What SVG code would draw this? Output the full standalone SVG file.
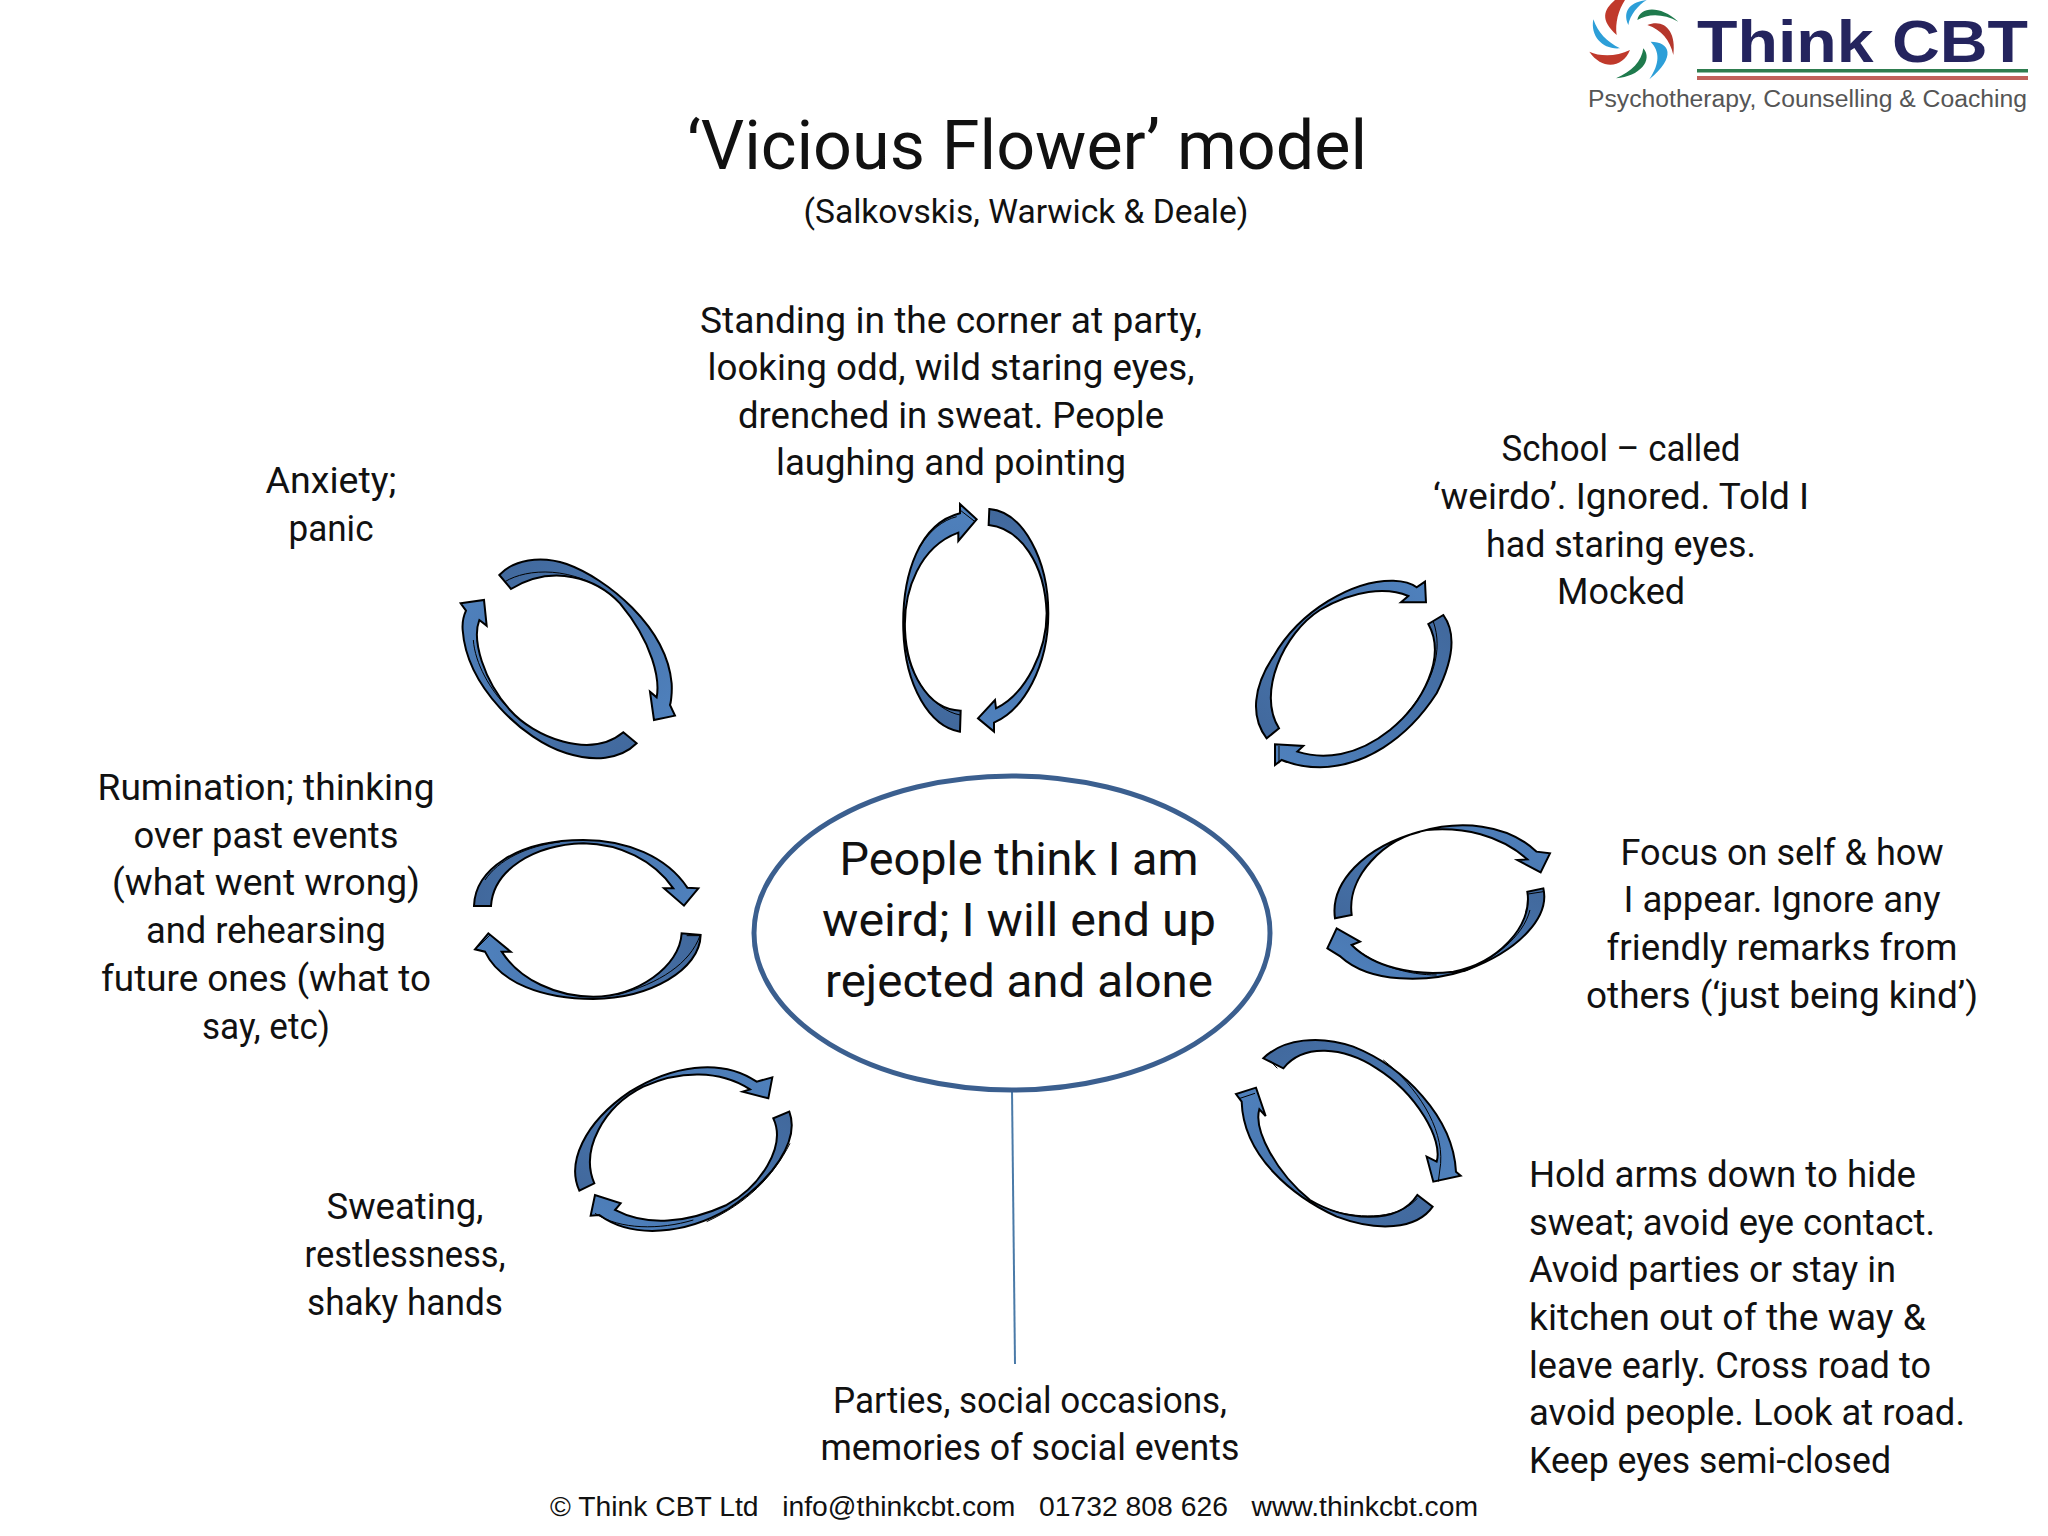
<svg xmlns="http://www.w3.org/2000/svg" width="2048" height="1536" viewBox="0 0 2048 1536">
<style>
text{font-family:"Roboto","Noto Sans",sans-serif;fill:#111}
.b{font-size:36.5px;text-anchor:middle}
.l{font-size:36.5px}
.a{stroke:#000;stroke-width:6;stroke-linejoin:miter}
.s{fill:none;stroke:#000;stroke-width:3}
.f{font-family:"Liberation Sans",Arial,sans-serif;white-space:pre}
</style>
<defs>
<linearGradient id="tb" x1="0" y1="0" x2="0" y2="1"><stop offset="0" stop-color="#41689c"/><stop offset="1" stop-color="#4f81bd"/></linearGradient>
<linearGradient id="bt" x1="0" y1="1" x2="0" y2="0"><stop offset="0" stop-color="#41689c"/><stop offset="1" stop-color="#4f81bd"/></linearGradient>
<linearGradient id="lr" x1="0" y1="0" x2="1" y2="0"><stop offset="0" stop-color="#41689c"/><stop offset="1" stop-color="#4f81bd"/></linearGradient>
<linearGradient id="rl" x1="1" y1="0" x2="0" y2="0"><stop offset="0" stop-color="#41689c"/><stop offset="1" stop-color="#4f81bd"/></linearGradient>
<linearGradient id="tlbr" x1="0" y1="0" x2="1" y2="1"><stop offset="0" stop-color="#41689c"/><stop offset="1" stop-color="#4f81bd"/></linearGradient>
<linearGradient id="brtl" x1="1" y1="1" x2="0" y2="0"><stop offset="0" stop-color="#41689c"/><stop offset="1" stop-color="#4f81bd"/></linearGradient>
<linearGradient id="bltr" x1="0" y1="1" x2="1" y2="0"><stop offset="0" stop-color="#41689c"/><stop offset="1" stop-color="#4f81bd"/></linearGradient>
<linearGradient id="trbl" x1="1" y1="0" x2="0" y2="1"><stop offset="0" stop-color="#41689c"/><stop offset="1" stop-color="#4f81bd"/></linearGradient>
</defs>
<rect width="2048" height="1536" fill="#fff"/>

<g id="logo">
<g transform="translate(1560,0) scale(0.3333)">
<path fill="#c0392b" d="M165,0C130,30 120,60 170,105C165,70 175,30 195,0Z"/>
<path fill="#2d9fd8" d="M260,0C215,5 185,30 205,75C210,45 235,15 260,0Z"/>
<path fill="#1f7a4d" d="M232,60C240,20 300,15 355,65C310,40 265,40 232,60Z"/>
<path fill="#b5372c" d="M262,75C310,55 350,90 340,165C330,120 305,90 262,75Z"/>
<path fill="#2d9fd8" d="M272,125C330,125 350,170 268,238C300,190 300,155 272,125Z"/>
<path fill="#1f7a4d" d="M250,145C280,180 240,230 168,235C215,215 245,185 250,145Z"/>
<path fill="#c0392b" d="M88,155C120,170 170,170 210,150C190,200 130,215 88,155Z"/>
<path fill="#2d9fd8" d="M100,58C90,110 130,150 180,145C140,125 115,100 100,58Z"/>
</g>
<text class="f" x="1697" y="62" font-size="60" font-weight="bold" textLength="331" lengthAdjust="spacingAndGlyphs" style="fill:#24245e">Think CBT</text>
<rect x="1697" y="69" width="331" height="3.5" fill="#2e7d4f"/>
<rect x="1697" y="76" width="331" height="4" fill="#c0605a"/>
<text class="f" x="1588" y="107" font-size="23" textLength="439" lengthAdjust="spacingAndGlyphs" style="fill:#555">Psychotherapy, Counselling &amp; Coaching</text>
</g>

<g id="title">
<text x="1027" y="169" font-size="68" text-anchor="middle" textLength="680" lengthAdjust="spacingAndGlyphs">‘Vicious Flower’ model</text>
<text x="1026" y="223" font-size="34" text-anchor="middle" textLength="445" lengthAdjust="spacingAndGlyphs">(Salkovskis, Warwick &amp; Deale)</text>
</g>

<g id="connectors">
<line x1="1012" y1="1090" x2="1015" y2="1364" stroke="#4a7aa8" stroke-width="2"/>
<g id="loop-top-left" transform="translate(440,540) scale(0.3333)">
<path class="a" fill="url(#tlbr)" d="M178,105C220,60 300,45 380,72C500,115 680,260 695,430C697,460 692,490 690,495L705,527L642,540L630,455L650,472C660,420 640,310 540,190C470,115 340,70 213,147Z"/>
<path class="a" fill="url(#brtl)" d="M590,610C540,660 460,665 380,640C250,600 80,440 68,270C66,245 72,225 78,212L62,190L132,180L140,257L118,240C95,300 130,420 210,510C280,590 450,660 550,577Z"/>
<path class="s" d="M195,125C260,85 400,75 520,170M100,300C105,370 150,450 205,505"/>
</g>
<g id="loop-top" transform="translate(880,490) scale(0.3333)">
<path class="a" fill="url(#bt)" d="M240,725C150,710 75,590 70,420C65,250 120,100 240,70L240,42L290,88L235,153L235,128C120,170 70,300 75,420C80,540 140,660 242,662Z"/>
<path class="a" fill="url(#tb)" d="M328,57C430,65 505,210 505,370C505,530 430,660 342,698L342,725L294,685L345,630L348,655C440,610 500,480 500,370C495,220 420,115 326,105Z"/>
<path class="s" d="M240,675C160,660 90,560 78,470M240,60L285,95M120,170C150,120 190,90 230,80"/>
</g>
<g id="loop-top-right" transform="translate(1240,560) scale(0.3333)">
<path class="a" fill="url(#bltr)" d="M80,535C30,470 40,380 100,290C180,150 340,60 460,62C490,63 515,70 530,82L555,65L558,127L483,127L505,108C440,80 340,90 240,150C130,220 50,400 117,505Z"/>
<path class="a" fill="url(#trbl)" d="M610,165C650,220 640,300 590,400C500,540 370,620 240,622C190,622 150,610 125,600L105,615L105,553L190,558L172,575C250,600 350,590 450,510C550,430 620,290 565,192Z"/>
<path class="s" d="M580,185C610,270 580,370 500,460M117,558L117,610"/>
</g>
<g id="loop-left" transform="translate(460,820) scale(0.3333)">
<path class="a" fill="url(#lr)" d="M42,258C45,150 170,60 370,60C500,60 620,110 682,203L715,205L672,257L612,205L640,205C580,120 480,72 370,70C220,75 100,150 93,258Z"/>
<path class="a" fill="url(#rl)" d="M722,345C720,450 570,535 400,537C250,537 120,490 75,395L45,388L85,340L152,395L125,395C180,480 290,530 400,530C530,530 660,440 665,340Z"/>
<path class="s" d="M75,180C115,120 200,78 300,66M680,347L720,347C690,430 600,490 470,525M55,380L90,345"/>
</g>
<g id="loop-right" transform="translate(1320,810) scale(0.3333)">
<path class="a" fill="url(#bltr)" d="M45,325C30,220 130,110 300,65C420,30 560,40 650,125L690,130L662,187L592,150L622,148C540,75 430,50 320,60C190,85 80,200 95,315Z"/>
<path class="a" fill="url(#trbl)" d="M670,235C690,320 600,420 440,480C320,520 150,520 62,440L22,415L50,355L120,395L95,405C160,470 280,500 400,485C530,460 640,350 622,245Z"/>
<path class="s" d="M625,252L670,245M630,300C610,380 520,450 430,485M100,410C170,470 270,495 350,495"/>
</g>
<g id="loop-bottom-left" transform="translate(560,1050) scale(0.3333)">
<path class="a" fill="url(#bltr)" d="M58,422C20,340 70,220 210,125C330,50 480,20 590,95L637,82L625,145L548,125L570,118C480,60 360,60 250,110C130,170 60,300 103,400Z"/>
<path class="a" fill="url(#trbl)" d="M688,185C720,270 640,390 500,480C380,550 220,570 118,495L92,497L105,435L182,460L165,480C260,530 380,520 500,465C600,410 680,290 640,205Z"/>
<path class="s" d="M690,280C640,380 560,460 440,515M105,490C180,540 300,540 400,510"/>
</g>
<g id="loop-bottom-right" transform="translate(1220,1030) scale(0.3333)">
<path class="a" fill="url(#tlbr)" d="M130,85C190,25 300,15 400,50C550,110 700,260 708,425L722,437L640,455L620,380L650,395C670,330 590,190 470,115C370,50 250,40 190,115Z"/>
<path class="a" fill="url(#brtl)" d="M638,530C590,600 470,605 350,560C220,500 70,380 65,215L48,192L108,173L137,258L118,238C100,300 170,430 270,510C370,570 530,590 592,495Z"/>
<path class="s" d="M150,92L172,115M490,90C590,170 670,290 662,400L655,455M592,505C540,565 430,570 330,540M60,205L105,190"/>
</g>
</g>

<g id="centre">
<ellipse cx="1012" cy="933" rx="258" ry="157" fill="#fff" stroke="#3b5f8f" stroke-width="5"/>
<text x="1019" y="875" font-size="47" text-anchor="middle" textLength="359" lengthAdjust="spacingAndGlyphs">People think I am</text>
<text x="1019" y="936" font-size="47" text-anchor="middle" textLength="394" lengthAdjust="spacingAndGlyphs">weird; I will end up</text>
<text x="1019" y="997" font-size="47" text-anchor="middle" textLength="388" lengthAdjust="spacingAndGlyphs">rejected and alone</text>
</g>

<g id="node-top"><text class="b" x="951" y="333" textLength="502" lengthAdjust="spacingAndGlyphs">Standing in the corner at party,</text><text class="b" x="951" y="380" textLength="487" lengthAdjust="spacingAndGlyphs">looking odd, wild staring eyes,</text><text class="b" x="951" y="428" textLength="426" lengthAdjust="spacingAndGlyphs">drenched in sweat. People</text><text class="b" x="951" y="475" textLength="350" lengthAdjust="spacingAndGlyphs">laughing and pointing</text></g>
<g id="node-top-right"><text class="b" x="1621" y="461" textLength="239" lengthAdjust="spacingAndGlyphs">School – called</text><text class="b" x="1621" y="509" textLength="376" lengthAdjust="spacingAndGlyphs">‘weirdo’. Ignored. Told I</text><text class="b" x="1621" y="557" textLength="270" lengthAdjust="spacingAndGlyphs">had staring eyes.</text><text class="b" x="1621" y="604" textLength="128" lengthAdjust="spacingAndGlyphs">Mocked</text></g>
<g id="node-top-left"><text class="b" x="331" y="493" textLength="131" lengthAdjust="spacingAndGlyphs">Anxiety;</text><text class="b" x="331" y="541" textLength="85" lengthAdjust="spacingAndGlyphs">panic</text></g>
<g id="node-left"><text class="b" x="266" y="800" textLength="337" lengthAdjust="spacingAndGlyphs">Rumination; thinking</text><text class="b" x="266" y="848" textLength="265" lengthAdjust="spacingAndGlyphs">over past events</text><text class="b" x="266" y="895" textLength="308" lengthAdjust="spacingAndGlyphs">(what went wrong)</text><text class="b" x="266" y="943" textLength="240" lengthAdjust="spacingAndGlyphs">and rehearsing</text><text class="b" x="266" y="991" textLength="330" lengthAdjust="spacingAndGlyphs">future ones (what to</text><text class="b" x="266" y="1039" textLength="128" lengthAdjust="spacingAndGlyphs">say, etc)</text></g>
<g id="node-right"><text class="b" x="1782" y="865" textLength="323" lengthAdjust="spacingAndGlyphs">Focus on self &amp; how</text><text class="b" x="1782" y="912" textLength="317" lengthAdjust="spacingAndGlyphs">I appear. Ignore any</text><text class="b" x="1782" y="960" textLength="351" lengthAdjust="spacingAndGlyphs">friendly remarks from</text><text class="b" x="1782" y="1008" textLength="392" lengthAdjust="spacingAndGlyphs">others (‘just being kind’)</text></g>
<g id="node-bottom-left"><text class="b" x="405" y="1219" textLength="157" lengthAdjust="spacingAndGlyphs">Sweating,</text><text class="b" x="405" y="1267" textLength="201" lengthAdjust="spacingAndGlyphs">restlessness,</text><text class="b" x="405" y="1315" textLength="196" lengthAdjust="spacingAndGlyphs">shaky hands</text></g>
<g id="node-bottom-right"><text class="l" x="1529" y="1187" textLength="387" lengthAdjust="spacingAndGlyphs">Hold arms down to hide</text><text class="l" x="1529" y="1235" textLength="406" lengthAdjust="spacingAndGlyphs">sweat; avoid eye contact.</text><text class="l" x="1529" y="1282" textLength="367" lengthAdjust="spacingAndGlyphs">Avoid parties or stay in</text><text class="l" x="1529" y="1330" textLength="397" lengthAdjust="spacingAndGlyphs">kitchen out of the way &amp;</text><text class="l" x="1529" y="1378" textLength="402" lengthAdjust="spacingAndGlyphs">leave early. Cross road to</text><text class="l" x="1529" y="1425" textLength="436" lengthAdjust="spacingAndGlyphs">avoid people. Look at road.</text><text class="l" x="1529" y="1473" textLength="362" lengthAdjust="spacingAndGlyphs">Keep eyes semi-closed</text></g>
<g id="node-bottom"><text class="b" x="1030" y="1413" textLength="394" lengthAdjust="spacingAndGlyphs">Parties, social occasions,</text><text class="b" x="1030" y="1460" textLength="419" lengthAdjust="spacingAndGlyphs">memories of social events</text></g>
<text id="footer" class="f" x="550" y="1516" font-size="27" textLength="928" lengthAdjust="spacingAndGlyphs">© Think CBT Ltd   info@thinkcbt.com   01732 808 626   www.thinkcbt.com</text>
</svg>
